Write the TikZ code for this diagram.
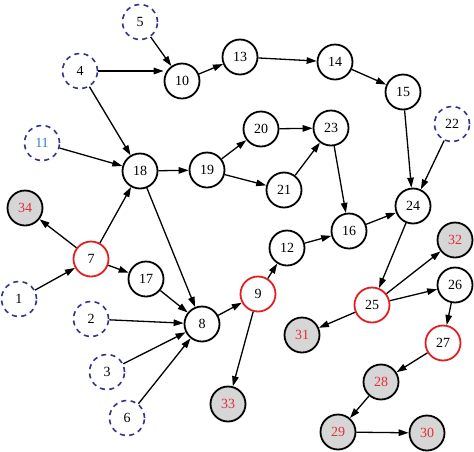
\documentclass[tikz,border=0pt]{standalone}
\usepackage{fontspec}
\setmainfont{Liberation Serif}
\usetikzlibrary{arrows.meta}
\definecolor{dashblue}{HTML}{33338F}
\definecolor{redring}{HTML}{E02020}
\definecolor{redtext}{HTML}{E0303A}
\definecolor{bluetext}{HTML}{3A7CC0}
\definecolor{grayfill}{HTML}{D6D6D6}
\tikzset{
  nd/.style={circle, draw=black, line width=1.8pt, minimum size=35pt, inner sep=0pt, fill=white,
    font=\fontsize{14}{14}\selectfont},
  src/.style={nd, draw=dashblue, dash pattern=on 5pt off 4.4pt, line width=1.6pt},
  crit/.style={nd, draw=redring},
  leaf/.style={nd, fill=grayfill, text=redtext},
  edge/.style={line width=1.3pt, -{Triangle[length=10pt,width=6.5pt]}}
}
\begin{document}
\begin{tikzpicture}[x=1pt,y=-1pt]
\useasboundingbox (0,0) rectangle (474,451);
\node[src] (n5) at (140,22) {5};
\node[src] (n4) at (80,71) {4};
\node[nd] (n10) at (182,81) {10};
\node[nd] (n13) at (240,57) {13};
\node[nd] (n14) at (335,62) {14};
\node[nd] (n15) at (403,92) {15};
\node[src, text=bluetext] (n11) at (42,143) {11};
\node[nd] (n18) at (140,171) {18};
\node[nd] (n19) at (207,170) {19};
\node[nd] (n20) at (261,129) {20};
\node[nd] (n23) at (331,128) {23};
\node[src] (n22) at (452,124) {22};
\node[nd] (n21) at (284,190) {21};
\node[nd] (n24) at (413,206) {24};
\node[nd] (n16) at (349,231) {16};
\node[leaf] (n34) at (25,208) {34};
\node[crit] (n7) at (91,259) {7};
\node[nd] (n17) at (146,279) {17};
\node[src] (n1) at (19,299) {1};
\node[nd] (n12) at (287,248) {12};
\node[crit] (n9) at (258,294) {9};
\node[leaf] (n32) at (455,240) {32};
\node[nd] (n26) at (455,285) {26};
\node[crit] (n25) at (372,305) {25};
\node[src] (n2) at (91,319) {2};
\node[nd] (n8) at (202,324) {8};
\node[leaf] (n31) at (302,335) {31};
\node[crit] (n27) at (443,343) {27};
\node[src] (n3) at (107,372) {3};
\node[src] (n6) at (127,418) {6};
\node[leaf] (n33) at (228,404) {33};
\node[leaf] (n28) at (381,382) {28};
\node[leaf] (n29) at (338,432) {29};
\node[leaf] (n30) at (427,433) {30};

\draw[edge] (n4.east) -- (n4.east -| n10.west);
\foreach \a/\b in {n5/n10, n4/n18, n10/n13, n13/n14, n14/n15, n15/n24, n22/n24,
  n11/n18, n18/n19, n19/n20, n19/n21, n20/n23, n21/n23, n23/n16, n16/n24, n18/n8,
  n7/n18, n7/n34, n1/n7, n7/n17, n17/n8, n2/n8, n3/n8, n6/n8, n8/n9, n9/n12, n12/n16,
  n9/n33, n24/n25, n25/n32, n25/n26, n25/n31, n26/n27, n27/n28, n28/n29, n29/n30}
  \draw[edge] (\a) -- (\b);
\end{tikzpicture}
\end{document}
